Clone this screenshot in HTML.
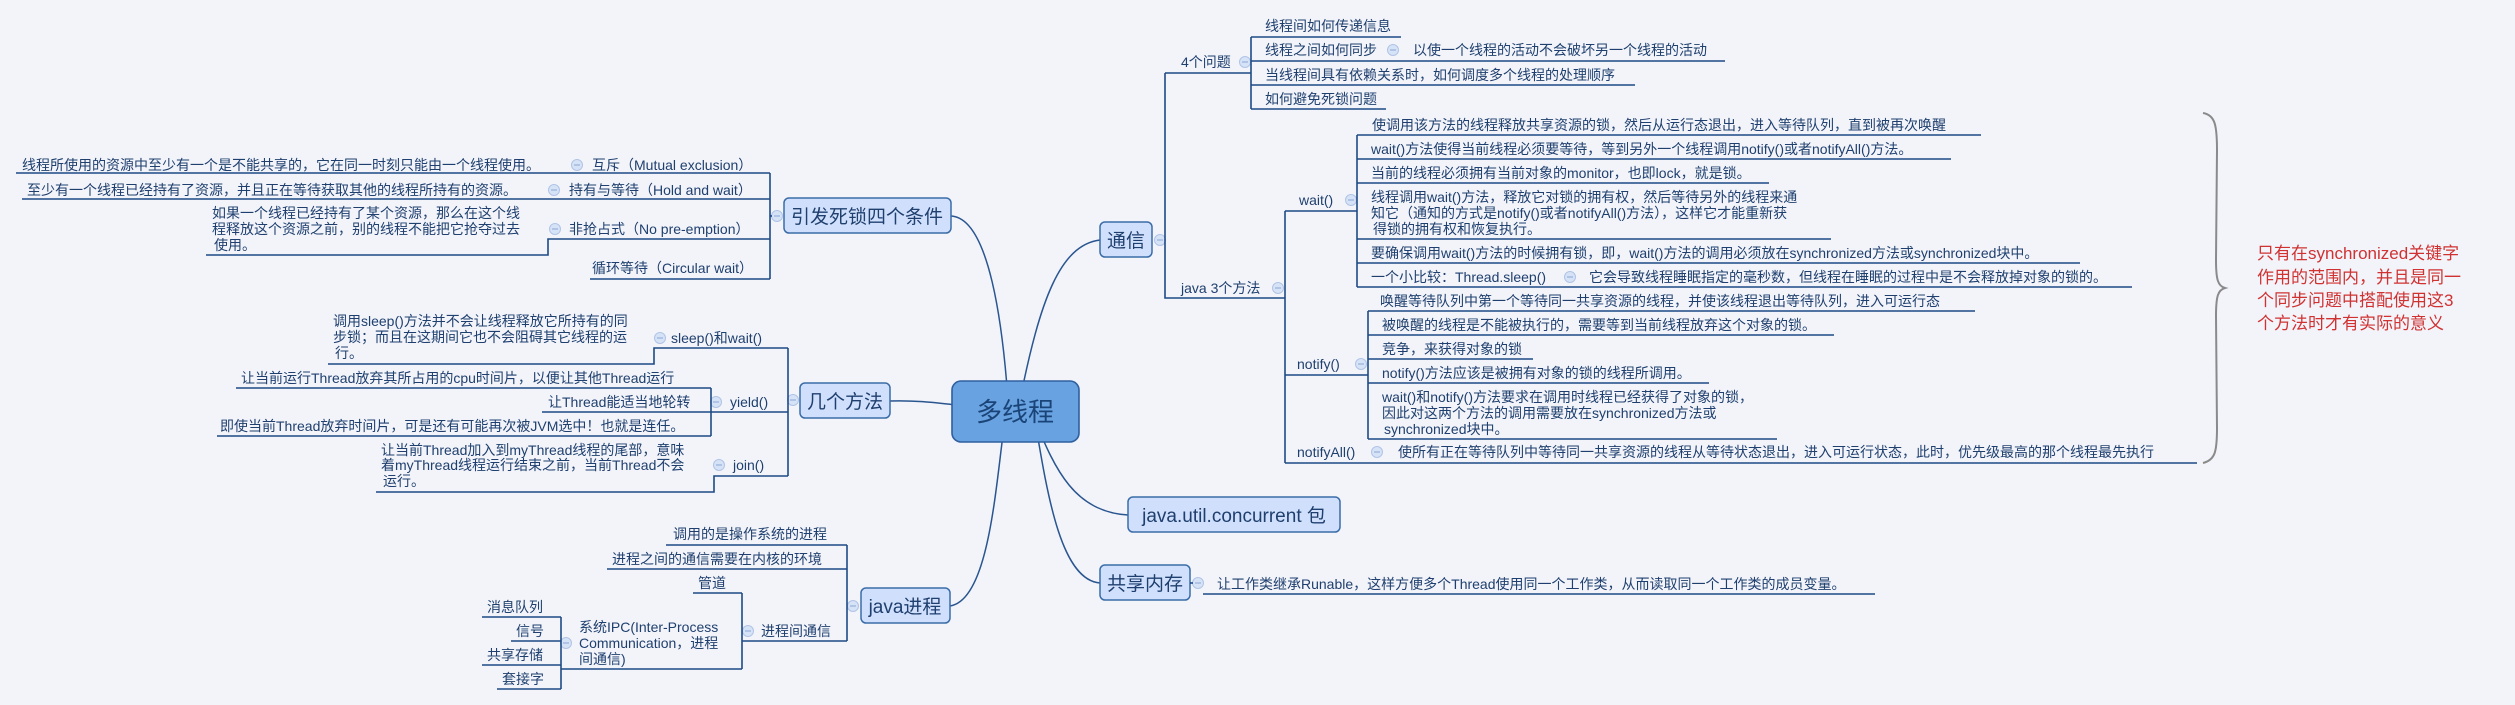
<!DOCTYPE html>
<html><head><meta charset="utf-8">
<style>
html,body{margin:0;padding:0;background:#f2f4fa;}
svg{display:block;}
text{font-family:"Liberation Sans","Noto Sans CJK SC",sans-serif;fill:#1f3f6e;font-size:14px;}
.b{font-size:19px;fill:#1f3f6e;}
.c{font-size:26px;fill:#1a4478;}
.r{fill:#d03232;font-size:17px;}
.ln{fill:none;stroke:#1d4a85;stroke-width:1.6;}
.cv{fill:none;stroke:#2a558f;stroke-width:1.5;}
.bx{fill:#d0e0fc;stroke:#3a6ca8;stroke-width:1.5;}
.ci{fill:#d6e2f6;stroke:#b0c4e6;stroke-width:1;}
.cm{stroke:#8aa6d4;stroke-width:1;}
</style></head>
<body>
<svg width="2515" height="705" viewBox="0 0 2515 705" xmlns="http://www.w3.org/2000/svg">
<defs>
<g id="col"><circle cx="0" cy="0" r="5.5" class="ci"/><line x1="-3" y1="0" x2="3" y2="0" class="cm"/></g>
</defs>
<rect width="2515" height="705" fill="#f2f4fa"/>

<path class="cv" d="M950,216 C990,216 1003,330 1008,400"/>
<path class="cv" d="M890,401 C930,400 945,405 1016,411"/>
<path class="cv" d="M950,606 C990,600 996,480 1005,420"/>
<path class="cv" d="M1100,240 C1060,245 1040,300 1020,400"/>
<path class="cv" d="M1128,515 C1075,512 1055,470 1035,420"/>
<path class="cv" d="M1100,583 C1062,580 1048,500 1035,420"/>

<rect x="952" y="381" width="127" height="61" rx="9" fill="#68a2e0" stroke="#2f5f9e" stroke-width="1.6"/>
<text x="1015" y="421" class="c" text-anchor="middle">多线程</text>

<rect x="784" y="198" width="167" height="35" rx="5" class="bx"/>
<text x="867" y="223" class="b" text-anchor="middle">引发死锁四个条件</text>
<use href="#col" x="777" y="216"/>
<path class="ln" d="M770,173 V279"/>
<line class="ln" x1="770" y1="216" x2="772" y2="216"/>
<text x="22" y="170">线程所使用的资源中至少有一个是不能共享的，它在同一时刻只能由一个线程使用。</text>
<use href="#col" x="577" y="165"/>
<text x="592" y="170">互斥（Mutual exclusion）</text>
<path class="ln" d="M16,173 H770"/>
<text x="27" y="195">至少有一个线程已经持有了资源，并且正在等待获取其他的线程所持有的资源。</text>
<use href="#col" x="554" y="190"/>
<text x="569" y="195">持有与等待（Hold and wait）</text>
<path class="ln" d="M22,199 H770"/>
<text x="212" y="218">如果一个线程已经持有了某个资源，那么在这个线</text>
<text x="212" y="234">程释放这个资源之前，别的线程不能把它抢夺过去</text>
<text x="214" y="250">使用。</text>
<use href="#col" x="555" y="229"/>
<text x="569" y="234">非抢占式（No pre-emption）</text>
<path class="ln" d="M206,255 H548 V239 H770"/>
<text x="592" y="273">循环等待（Circular wait）</text>
<path class="ln" d="M590,279 H770"/>

<rect x="800" y="383" width="90" height="35" rx="5" class="bx"/>
<text x="845" y="408" class="b" text-anchor="middle">几个方法</text>
<use href="#col" x="793" y="400"/>
<path class="ln" d="M788,348 V476"/>
<text x="333" y="326">调用sleep()方法并不会让线程释放它所持有的同</text>
<text x="333" y="342">步锁；而且在这期间它也不会阻碍其它线程的运</text>
<text x="335" y="358">行。</text>
<use href="#col" x="660" y="338"/>
<text x="671" y="343">sleep()和wait()</text>
<path class="ln" d="M328,364 H654 V348 H788"/>
<text x="241" y="383">让当前运行Thread放弃其所占用的cpu时间片，以便让其他Thread运行</text>
<path class="ln" d="M236,388 H711"/>
<text x="548" y="407">让Thread能适当地轮转</text>
<use href="#col" x="716" y="402"/>
<text x="730" y="407">yield()</text>
<path class="ln" d="M542,412 H788"/>
<path class="ln" d="M711,388 V436"/>
<text x="220" y="431">即使当前Thread放弃时间片，可是还有可能再次被JVM选中！也就是连任。</text>
<path class="ln" d="M217,436 H711"/>
<text x="381" y="455">让当前Thread加入到myThread线程的尾部，意味</text>
<text x="381" y="470">着myThread线程运行结束之前，当前Thread不会</text>
<text x="383" y="486">运行。</text>
<use href="#col" x="719" y="465"/>
<text x="733" y="470">join()</text>
<path class="ln" d="M376,492 H714 V476 H788"/>

<rect x="861" y="588" width="89" height="35" rx="5" class="bx"/>
<text x="905" y="613" class="b" text-anchor="middle">java进程</text>
<use href="#col" x="853" y="606"/>
<path class="ln" d="M847,545 V641"/>
<text x="673" y="539">调用的是操作系统的进程</text>
<path class="ln" d="M666,545 H847"/>
<text x="612" y="564">进程之间的通信需要在内核的环境</text>
<path class="ln" d="M607,569 H847"/>
<use href="#col" x="748" y="631"/>
<text x="761" y="636">进程间通信</text>
<path class="ln" d="M742,641 H847"/>
<path class="ln" d="M742,593 V669"/>
<text x="698" y="588">管道</text>
<path class="ln" d="M693,593 H742"/>
<text x="579" y="632">系统IPC(Inter-Process</text>
<text x="579" y="648">Communication，进程</text>
<text x="579" y="664">间通信)</text>
<use href="#col" x="566" y="643"/>
<path class="ln" d="M561,669 H742"/>
<path class="ln" d="M561,617 V689"/>
<text x="487" y="612">消息队列</text>
<path class="ln" d="M482,617 H561"/>
<text x="516" y="636">信号</text>
<path class="ln" d="M511,641 H561"/>
<text x="487" y="660">共享存储</text>
<path class="ln" d="M482,665 H561"/>
<text x="502" y="684">套接字</text>
<path class="ln" d="M497,689 H561"/>

<rect x="1100" y="222" width="52" height="35" rx="5" class="bx"/>
<text x="1126" y="247" class="b" text-anchor="middle">通信</text>
<use href="#col" x="1160" y="240"/>
<path class="ln" d="M1165,73 V298 H1285"/>
<path class="ln" d="M1165,73 H1251"/>
<text x="1181" y="67">4个问题</text>
<use href="#col" x="1245" y="62"/>
<path class="ln" d="M1251,37 V109"/>
<text x="1265" y="31">线程间如何传递信息</text>
<path class="ln" d="M1251,37 H1401"/>
<text x="1265" y="55">线程之间如何同步</text>
<use href="#col" x="1393" y="50"/>
<text x="1413" y="55">以使一个线程的活动不会破坏另一个线程的活动</text>
<path class="ln" d="M1251,61 H1725"/>
<text x="1265" y="80">当线程间具有依赖关系时，如何调度多个线程的处理顺序</text>
<path class="ln" d="M1251,85 H1635"/>
<text x="1265" y="104">如何避免死锁问题</text>
<path class="ln" d="M1251,109 H1386"/>

<text x="1181" y="293">java 3个方法</text>
<use href="#col" x="1278" y="288"/>
<path class="ln" d="M1285,211 V463"/>

<text x="1299" y="205">wait()</text>
<use href="#col" x="1351" y="200"/>
<path class="ln" d="M1285,211 H1357"/>
<path class="ln" d="M1357,135 V287"/>
<text x="1372" y="130">使调用该方法的线程释放共享资源的锁，然后从运行态退出，进入等待队列，直到被再次唤醒</text>
<path class="ln" d="M1357,135 H1981"/>
<text x="1371" y="154">wait()方法使得当前线程必须要等待，等到另外一个线程调用notify()或者notifyAll()方法。</text>
<path class="ln" d="M1357,159 H1951"/>
<text x="1371" y="178">当前的线程必须拥有当前对象的monitor，也即lock，就是锁。</text>
<path class="ln" d="M1357,183 H1769"/>
<text x="1371" y="202">线程调用wait()方法，释放它对锁的拥有权，然后等待另外的线程来通</text>
<text x="1371" y="218">知它（通知的方式是notify()或者notifyAll()方法），这样它才能重新获</text>
<text x="1373" y="234">得锁的拥有权和恢复执行。</text>
<path class="ln" d="M1357,239 H1831"/>
<text x="1371" y="258">要确保调用wait()方法的时候拥有锁，即，wait()方法的调用必须放在synchronized方法或synchronized块中。</text>
<path class="ln" d="M1357,263 H2080"/>
<text x="1371" y="282">一个小比较：Thread.sleep()</text>
<use href="#col" x="1570" y="277"/>
<text x="1589" y="282">它会导致线程睡眠指定的毫秒数，但线程在睡眠的过程中是不会释放掉对象的锁的。</text>
<path class="ln" d="M1357,287 H2132"/>

<text x="1297" y="369">notify()</text>
<use href="#col" x="1361" y="364"/>
<path class="ln" d="M1285,375 H1368"/>
<path class="ln" d="M1368,311 V439"/>
<text x="1380" y="306">唤醒等待队列中第一个等待同一共享资源的线程，并使该线程退出等待队列，进入可运行态</text>
<path class="ln" d="M1368,311 H1975"/>
<text x="1382" y="330">被唤醒的线程是不能被执行的，需要等到当前线程放弃这个对象的锁。</text>
<path class="ln" d="M1368,335 H1834"/>
<text x="1382" y="354">竞争，来获得对象的锁</text>
<path class="ln" d="M1368,359 H1533"/>
<text x="1382" y="378">notify()方法应该是被拥有对象的锁的线程所调用。</text>
<path class="ln" d="M1368,383 H1709"/>
<text x="1382" y="402">wait()和notify()方法要求在调用时线程已经获得了对象的锁，</text>
<text x="1382" y="418">因此对这两个方法的调用需要放在synchronized方法或</text>
<text x="1384" y="434">synchronized块中。</text>
<path class="ln" d="M1368,439 H1777"/>

<text x="1297" y="457">notifyAll()</text>
<use href="#col" x="1377" y="452"/>
<text x="1398" y="457">使所有正在等待队列中等待同一共享资源的线程从等待状态退出，进入可运行状态，此时，优先级最高的那个线程最先执行</text>
<path class="ln" d="M1285,463 H2197"/>

<path d="M2203,113 C2215,115 2217,125 2217,150 L2216,260 C2216,280 2218,286 2225,288 C2218,290 2216,296 2216,316 L2217,428 C2217,452 2215,460 2203,463" fill="none" stroke="#8a8a8a" stroke-width="2"/>
<text x="2257" y="259" class="r">只有在synchronized关键字</text>
<text x="2257" y="283" class="r">作用的范围内，并且是同一</text>
<text x="2257" y="306" class="r">个同步问题中搭配使用这3</text>
<text x="2257" y="329" class="r">个方法时才有实际的意义</text>

<rect x="1128" y="497" width="212" height="35" rx="5" class="bx"/>
<text x="1234" y="522" class="b" text-anchor="middle">java.util.concurrent 包</text>

<rect x="1100" y="565" width="90" height="35" rx="5" class="bx"/>
<text x="1145" y="590" class="b" text-anchor="middle">共享内存</text>
<use href="#col" x="1198" y="583"/>
<text x="1217" y="589">让工作类继承Runable，这样方便多个Thread使用同一个工作类，从而读取同一个工作类的成员变量。</text>
<path class="ln" d="M1203,594 H1875"/>
<path class="ln" d="M1190,583 H1193"/>
</svg>
</body></html>
